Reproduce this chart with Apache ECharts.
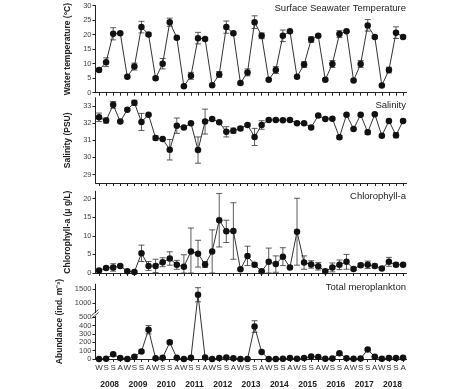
<!DOCTYPE html>
<html><head><meta charset="utf-8">
<script src="https://cdn.jsdelivr.net/npm/echarts@6/dist/echarts.min.js"></script>
<style>html,body{margin:0;padding:0;background:#fff}#c{width:474px;height:389px}</style>
</head><body><div id="c"></div><script>
const categories = ['W','S','S','A','W','S','S','A','W','S','S','A','W','S','S','A','W','S','S','A','W','S','S','A',
  'W','S','S','A','W','S','S','A','W','S','S','A','W','S','S','A','W','S','S','A'];
const years = ['2008','2009','2010','2011','2012','2013','2014','2015','2016','2017','2018'];

const temperature = [7.8,10.5,20.3,20.5, 5.5,9,22.6,20.1, 5,10,24.3,18.9, 2.2,5.8,18.8,18.5, 2.6,6.3,22.6,20.5,
  3.3,7,24.3,19.6, 4.5,7.8,19.6,21.2, 5.5,9.7,18.3,19.6, 4.5,9.9,20.2,21.2, 4.2,9.9,23.2,19.2, 2.5,7.8,20.7,19.2];
const temperatureErr = [0.5,1.5,2.1,0.3, 0.3,1.2,2.0,0.5, 0.5,1.8,1.4,0.5, 0.3,1.2,2.0,0.5, 0.3,1.0,2.1,0.3,
  0.3,1.2,2.2,1.0, 0.3,1.2,2.0,0.3, 0.3,1.0,1.0,0.3, 0.3,1.2,1.2,0.3, 0.3,1.2,2.0,0.5, 0.3,1.0,2.0,0.3];

const salinity = [32.35,32.16,33.08,32.1, 32.8,33.2,32.08,32.5, 31.14,31.08,30.45,31.86, 31.75,32.0,30.43,32.1,
  32.25,32.06,31.5,31.57, 31.7,31.9,31.2,31.9, 32.2,32.2,32.18,32.2, 32.0,32.0,31.76,32.45,
  32.25,32.27,31.18,32.5, 31.67,32.5,31.47,32.53, 31.27,32.14,31.3,32.14];
const salinityErr = [0.25,0.15,0.2,0.05, 0.05,0.15,0.5,0.05, 0.12,0.05,0.6,0.45, 0.05,0.05,0.77,0.73,
  0.05,0.05,0.3,0.15, 0.1,0.05,0.5,0.25, 0.05,0.05,0.05,0.05, 0.05,0.05,0.05,0.05,
  0.05,0.05,0.1,0.05, 0.05,0.05,0.12,0.05, 0.05,0.05,0.15,0.05];

const chlorophyll = [0.7,1.35,1.5,1.9, 0.5,0.3,5.3,1.9, 1.9,2.9,3.9,2.2, 1.7,5.8,5.2,2.3, 5.8,14.2,11.2,11.3,
  1.0,4.6,2.2,0.45, 3.0,2.4,4.4,1.5, 11.1,2.8,2.3,1.8, 0.5,1.5,2.2,3.0, 1.1,2.1,2.2,1.9, 1.2,3.0,2.2,2.2];
const chlorophyllErr = [0.3,0.4,1.0,0.3, 0.2,0.2,2.2,1.2, 1.8,1.2,1.8,1.2, 3.2,6.3,3.6,0.8, 5.8,7.2,3.0,7.6,
  0.3,2.6,0.5,0.2, 3.7,2.2,2.4,0.3, 9.0,1.8,1.0,1.0, 0.3,1.2,1.3,2.0, 0.3,0.5,1.0,0.5, 0.3,1.2,0.5,0.3];

const meroplankton = [0,4,57,11, 0,26,91,352, 8,15,200,15, 0,15,1300,19, 0,11,19,8,
  0,0,390,83, 0,0,3,11, 4,11,30,23, 2,5,68,8, 3,5,114,26, 3,11,11,15];
const meroplanktonErr = [0,0,10,0, 0,5,15,50, 0,0,20,0, 0,0,250,0, 0,0,0,0,
  0,0,70,10, 0,0,0,0, 0,0,0,0, 0,0,10,0, 0,0,10,0, 0,0,0,0];

const tempTicks = [0,5,10,15,20,25,30];
const salTicks = [29,30,31,32,33];
const chlTicks = [0,5,10,15,20];
const abundTicks = [0,100,200,300,400,500,1000,1500];

const panelTitles = ['Surface Seawater Temperature','Salinity','Chlorophyll-a','Total meroplankton'];
const axisNames = ['Water temperature (\u00B0C)','Salinity (PSU)','Chlorophyll-a (\u03BC g/L)','Abundance (ind. m\u207B\u00B3)'];

// broken axis: linear to 500, compressed above
const BREAK = 500, K = 0.34;
const tf = v => v <= BREAK ? v : BREAK + (v - BREAK) * K;
const itf = t => t <= BREAK ? t : BREAK + (t - BREAK) / K;
const ident = v => v;

const FONT = 'Liberation Sans';
const LEFT = 95.5, RIGHT = 67.4;
const grids = [
  {left: LEFT, right: RIGHT, top: 2, height: 90.7},
  {left: LEFT, right: RIGHT, top: 97.7, height: 85.3},
  {left: LEFT, right: RIGHT, top: 191.2, height: 81.8},
  {left: LEFT, right: RIGHT, top: 284.1, height: 79.2}
];

const xAxes = grids.map((g, i) => ({
  type: 'category', gridIndex: i, data: categories, boundaryGap: true,
  axisLine: {lineStyle: {color: '#222', width: 1}},
  axisTick: {show: true, alignWithLabel: true, interval: 0, length: 3, lineStyle: {color: '#222'}},
  axisLabel: {show: i === 3, interval: 0, fontSize: 8, color: '#333', margin: 5, fontFamily: FONT}
}));
xAxes.push({
  type: 'category', gridIndex: 3, data: years, boundaryGap: true, position: 'bottom', offset: 13,
  axisLine: {show: false}, axisTick: {show: false},
  axisLabel: {interval: 0, fontSize: 8.5, fontWeight: 'bold', color: '#222', fontFamily: FONT}
});

function yAxis(i, min, max, ticks, fmt) {
  return {
    type: 'value', gridIndex: i, min: min, max: max,
    name: axisNames[i], nameLocation: 'middle', nameGap: 23,
    nameTextStyle: {fontSize: 8.5, fontWeight: 'bold', color: '#222', fontFamily: FONT},
    axisLine: {show: true, lineStyle: {color: '#222', width: 1}},
    axisTick: {show: true, length: 3, customValues: ticks, lineStyle: {color: '#222'}},
    axisLabel: {customValues: ticks, fontSize: 7.5, color: '#444', margin: 4, fontFamily: FONT,
      formatter: fmt || (v => String(v))},
    splitLine: {show: false}
  };
}
const yAxes = [
  yAxis(0, 0, 30, tempTicks),
  yAxis(1, 28.5, 33.5, salTicks),
  yAxis(2, 0, 22, chlTicks),
  yAxis(3, 0, 900, abundTicks.map(tf), v => String(Math.round(itf(v))))
];

function lineSeries(i, vals, f) {
  return {
    type: 'line', xAxisIndex: i, yAxisIndex: i, data: vals.map(f), z: 3,
    symbol: 'circle', symbolSize: 6.5, showSymbol: true, showAllSymbol: true,
    itemStyle: {color: '#111'}, lineStyle: {color: '#333', width: 1},
    animation: false
  };
}
function errSeries(i, vals, errs, f, floor) {
  return {
    type: 'custom', xAxisIndex: i, yAxisIndex: i, z: 2, silent: true, animation: false,
    encode: {x: 0, y: [1, 2]},
    data: vals.map((v, k) => [k, f(floor != null ? Math.max(floor, v - errs[k]) : v - errs[k]), f(v + errs[k])]),
    renderItem: function (params, api) {
      const x = api.value(0);
      const lo = api.coord([x, api.value(1)]);
      const hi = api.coord([x, api.value(2)]);
      const w = 3;
      const st = {stroke: '#333', lineWidth: 0.8};
      return {type: 'group', children: [
        {type: 'line', shape: {x1: lo[0], y1: lo[1], x2: hi[0], y2: hi[1]}, style: st},
        {type: 'line', shape: {x1: hi[0] - w, y1: hi[1], x2: hi[0] + w, y2: hi[1]}, style: st},
        {type: 'line', shape: {x1: lo[0] - w, y1: lo[1], x2: lo[0] + w, y2: lo[1]}, style: st}
      ]};
    }
  };
}

const titleTops = [3, 100, 191, 282];
const chart = echarts.init(document.getElementById('c'), null, {renderer: 'canvas'});
chart.setOption({
  animation: false,
  backgroundColor: '#fff',
  title: panelTitles.map((t, i) => ({
    text: t, right: 68, top: titleTops[i], padding: 0,
    textStyle: {fontSize: 9.5, fontWeight: 'normal', color: '#222', fontFamily: FONT}
  })),
  grid: grids,
  xAxis: xAxes,
  yAxis: yAxes,
  series: [
    errSeries(0, temperature, temperatureErr, ident),
    lineSeries(0, temperature, ident),
    errSeries(1, salinity, salinityErr, ident),
    lineSeries(1, salinity, ident),
    errSeries(2, chlorophyll, chlorophyllErr, ident, 0),
    lineSeries(2, chlorophyll, ident),
    errSeries(3, meroplankton, meroplanktonErr, tf, 0),
    lineSeries(3, meroplankton, tf)
  ]
});

// axis break mark on the abundance axis
const bp = chart.convertToPixel({xAxisIndex: 3, yAxisIndex: 3}, [0, 535]);
const bx = LEFT, by = bp[1];
chart.setOption({
  graphic: [
    {type: 'rect', shape: {x: bx - 2, y: by - 1.5, width: 4, height: 3}, style: {fill: '#fff'}, z: 100},
    {type: 'line', shape: {x1: bx - 4, y1: by + 1, x2: bx + 3, y2: by - 5}, style: {stroke: '#222', lineWidth: 0.8}, z: 101},
    {type: 'line', shape: {x1: bx - 4, y1: by + 4, x2: bx + 3, y2: by - 2}, style: {stroke: '#222', lineWidth: 0.8}, z: 101}
  ]
});
</script></body></html>
